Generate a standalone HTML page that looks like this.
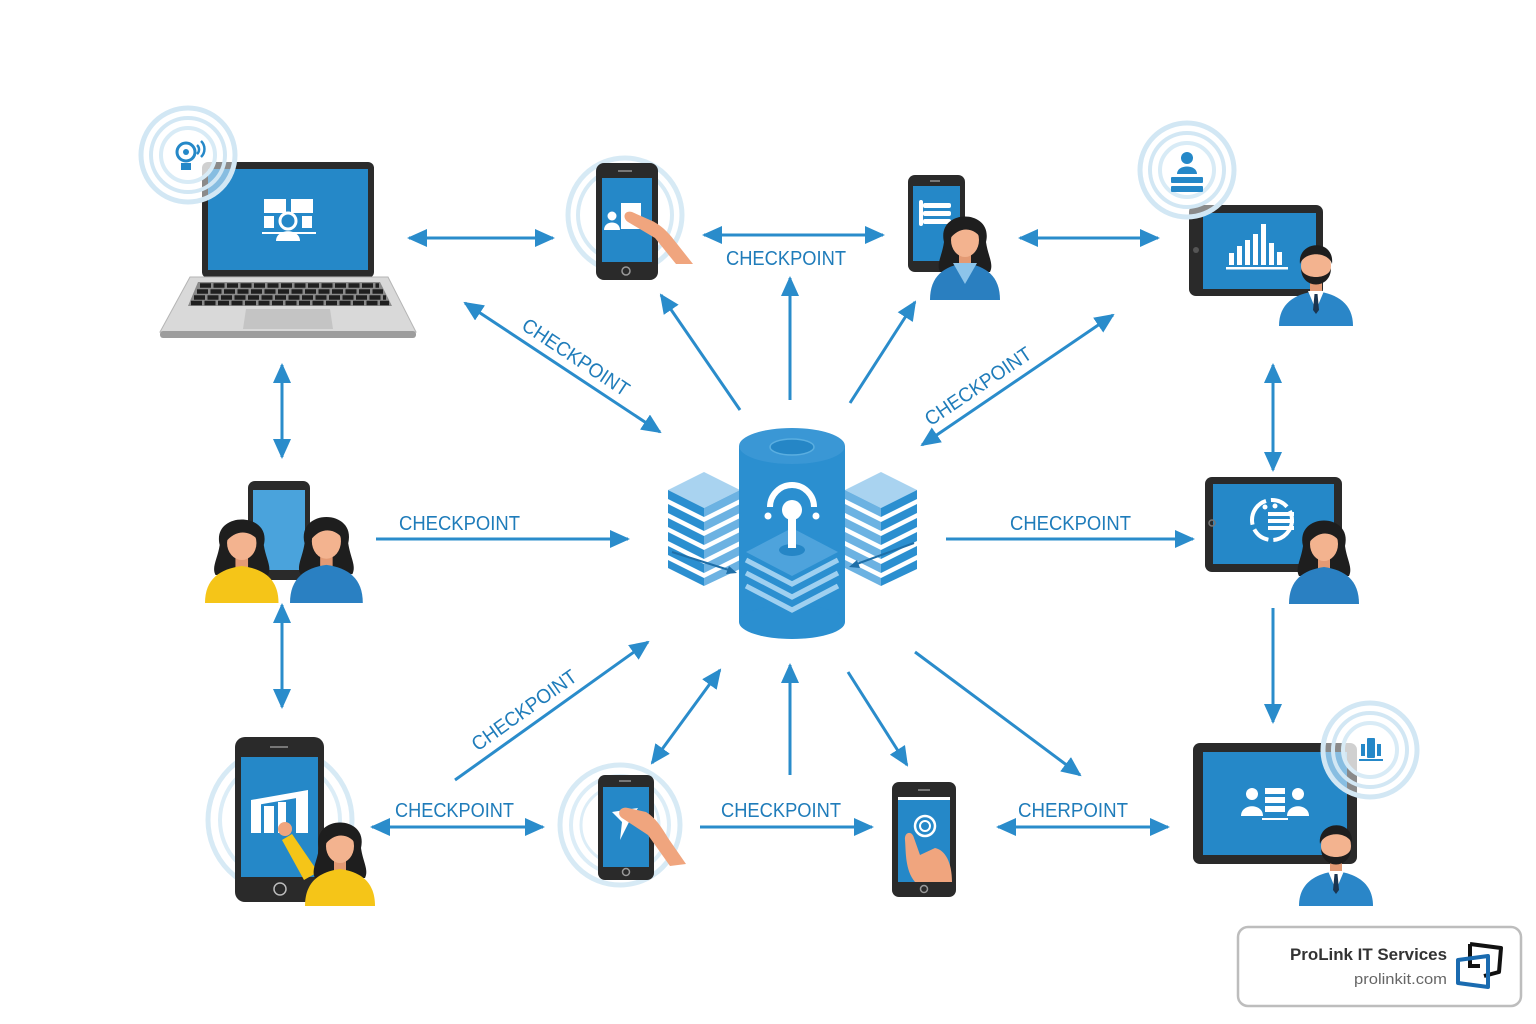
<!DOCTYPE html>
<html><head><meta charset="utf-8">
<style>
html,body{margin:0;padding:0;background:#fff;}
svg{display:block;}
text{font-family:"Liberation Sans",sans-serif;}
</style></head>
<body>
<svg width="1536" height="1024" viewBox="0 0 1536 1024" xmlns="http://www.w3.org/2000/svg">
<defs>
<marker id="ah" viewBox="0 0 10 10" refX="9" refY="5" markerWidth="20" markerHeight="18" markerUnits="userSpaceOnUse" orient="auto-start-reverse" preserveAspectRatio="none"><path d="M0,0 L10,5 L0,10 z" fill="#2a8ccb"/></marker>
<g id="woman">
 <path d="M14,42 C6,8 64,8 56,42 C58,56 64,64 60,72 L10,72 C6,64 12,56 14,42 z" fill="#1e1e1e"/>
 <rect x="29" y="50" width="12" height="16" fill="#e39a74"/>
 <path d="M0,100 C0,76 14,66 35,63 C56,66 70,76 70,100 z" fill="currentColor"/>
 <ellipse cx="35" cy="40" rx="14" ry="17" fill="#f3b38f"/>
 <path d="M19,40 C17,18 52,14 52,40 C46,28 30,24 19,40 z" fill="#1e1e1e"/>
</g>
<g id="man">
 <rect x="31" y="50" width="12" height="16" fill="#e39a74"/>
 <path d="M0,98 C0,76 15,66 37,63 C59,66 74,76 74,98 z" fill="currentColor"/>
 <path d="M29,63 L37,82 L45,63 z" fill="#fff"/>
 <path d="M35.5,66 L38.5,66 L40,82 L37,86 L34,82 z" fill="#1b3550"/>
 <ellipse cx="37" cy="38" rx="15" ry="18" fill="#f3b38f"/>
 <path d="M21,36 C18,12 56,10 53,36 C50,24 26,22 21,36 z" fill="#1e1e1e"/>
 <path d="M22,40 C22,62 52,62 52,40 C50,52 24,52 22,40 z" fill="#1e1e1e"/>
</g>
<g id="rings3">
 <circle r="47" fill="rgba(255,255,255,0.45)" stroke="#d2e7f4" stroke-width="5"/>
 <circle r="37" fill="none" stroke="#d2e7f4" stroke-width="4"/>
 <circle r="27" fill="rgba(255,255,255,0.6)" stroke="#d8ebf6" stroke-width="4"/>
</g>
</defs>

<!-- ============ CONNECTORS ============ -->
<g stroke="#2a8ccb" stroke-width="3" fill="none">
 <line x1="409" y1="238" x2="553" y2="238" marker-start="url(#ah)" marker-end="url(#ah)"/>
 <line x1="704" y1="235" x2="883" y2="235" marker-start="url(#ah)" marker-end="url(#ah)"/>
 <line x1="1020" y1="238" x2="1158" y2="238" marker-start="url(#ah)" marker-end="url(#ah)"/>
 <line x1="282" y1="365" x2="282" y2="457" marker-start="url(#ah)" marker-end="url(#ah)"/>
 <line x1="1273" y1="365" x2="1273" y2="470" marker-start="url(#ah)" marker-end="url(#ah)"/>
 <line x1="282" y1="605" x2="282" y2="707" marker-start="url(#ah)" marker-end="url(#ah)"/>
 <line x1="1273" y1="608" x2="1273" y2="722" marker-end="url(#ah)"/>
 <line x1="465" y1="303" x2="660" y2="432" marker-start="url(#ah)" marker-end="url(#ah)"/>
 <line x1="740" y1="410" x2="661" y2="295" marker-end="url(#ah)"/>
 <line x1="790" y1="400" x2="790" y2="278" marker-end="url(#ah)"/>
 <line x1="850" y1="403" x2="915" y2="302" marker-end="url(#ah)"/>
 <line x1="922" y1="445" x2="1113" y2="315" marker-start="url(#ah)" marker-end="url(#ah)"/>
 <line x1="376" y1="539" x2="628" y2="539" marker-end="url(#ah)"/>
 <line x1="946" y1="539" x2="1193" y2="539" marker-end="url(#ah)"/>
 <line x1="455" y1="780" x2="648" y2="642" marker-end="url(#ah)"/>
 <line x1="652" y1="763" x2="720" y2="670" marker-start="url(#ah)" marker-end="url(#ah)"/>
 <line x1="790" y1="775" x2="790" y2="665" marker-end="url(#ah)"/>
 <line x1="848" y1="672" x2="907" y2="765" marker-end="url(#ah)"/>
 <line x1="915" y1="652" x2="1080" y2="775" marker-end="url(#ah)"/>
 <line x1="372" y1="827" x2="543" y2="827" marker-start="url(#ah)" marker-end="url(#ah)"/>
 <line x1="700" y1="827" x2="872" y2="827" marker-end="url(#ah)"/>
 <line x1="998" y1="827" x2="1168" y2="827" marker-start="url(#ah)" marker-end="url(#ah)"/>
</g>

<!-- labels -->
<g fill="#1f7cba" font-size="20">
 <text x="726" y="265" textLength="120" lengthAdjust="spacingAndGlyphs">CHECKPOINT</text>
 <text x="399" y="530" textLength="121" lengthAdjust="spacingAndGlyphs">CHECKPOINT</text>
 <text x="1010" y="530" textLength="121" lengthAdjust="spacingAndGlyphs">CHECKPOINT</text>
 <text x="395" y="817" textLength="119" lengthAdjust="spacingAndGlyphs">CHECKPOINT</text>
 <text x="721" y="817" textLength="120" lengthAdjust="spacingAndGlyphs">CHECKPOINT</text>
 <text x="1018" y="817" textLength="110" lengthAdjust="spacingAndGlyphs">CHERPOINT</text>
 <text transform="translate(576,357) rotate(33.5)" x="0" y="7" text-anchor="middle" textLength="124" lengthAdjust="spacingAndGlyphs">CHECKPOINT</text>
 <text transform="translate(978,386) rotate(-34)" x="0" y="7" text-anchor="middle" textLength="124" lengthAdjust="spacingAndGlyphs">CHECKPOINT</text>
 <text transform="translate(524,710) rotate(-35.5)" x="0" y="7" text-anchor="middle" textLength="124" lengthAdjust="spacingAndGlyphs">CHECKPOINT</text>
</g>

<!-- ============ LAPTOP ============ -->
<g>
 <rect x="202" y="162" width="172" height="116" rx="6" fill="#2b2b2b"/>
 <rect x="208" y="169" width="160" height="101" fill="#2588c8"/>
 <g fill="#fff">
  <rect x="264" y="199" width="22" height="14"/><rect x="291" y="199" width="22" height="14"/>
  <rect x="264" y="216" width="10" height="12"/><rect x="302" y="216" width="10" height="12"/>
  <rect x="262" y="232" width="54" height="2"/>
  <circle cx="288" cy="221" r="8" fill="#2588c8" stroke="#fff" stroke-width="3"/>
  <path d="M276,241 C276,228 300,228 300,241 z"/>
 </g>
 <polygon points="190,277 388,277 416,332 160,332" fill="#d9d9d9" stroke="#b5b5b5" stroke-width="1"/>
 <rect x="160" y="331" width="256" height="7" rx="3" fill="#9d9d9d"/>
 <polygon points="198,282 380,282 392,306 188,306" fill="#8a8a8a"/>
 <g stroke="#1f1f1f" stroke-width="4.5" stroke-dasharray="11 2.5">
  <line x1="200" y1="285.5" x2="379" y2="285.5"/>
  <line x1="197" y1="291.5" x2="383" y2="291.5"/>
  <line x1="194" y1="297.5" x2="386" y2="297.5"/>
  <line x1="191" y1="303" x2="389" y2="303"/>
 </g>
 <polygon points="246,309 330,309 333,329 243,329" fill="#c4c4c4"/>
 <use href="#rings3" transform="translate(188,155)"/>
 <circle cx="186" cy="152" r="9" fill="#fff" stroke="#2588c8" stroke-width="3"/>
 <circle cx="186" cy="152" r="3" fill="#2588c8"/>
 <rect x="181" y="163" width="10" height="7" fill="#2588c8"/>
 <path d="M197,145 a6,6 0 0 1 0,9 M201,141 a11,11 0 0 1 0,16" stroke="#2588c8" stroke-width="2.5" fill="none"/>
</g>

<!-- ============ PHONE 1 (top) ============ -->
<g>
 <circle cx="625" cy="215" r="57" fill="none" stroke="#d7eaf5" stroke-width="5"/>
 <circle cx="625" cy="215" r="47" fill="none" stroke="#d7eaf5" stroke-width="4"/>
 <rect x="596" y="163" width="62" height="117" rx="8" fill="#2a2a2a"/>
 <rect x="602" y="178" width="50" height="84" fill="#2588c8"/>
 <rect x="618" y="170" width="14" height="2" fill="#777"/>
 <circle cx="626" cy="271" r="4" fill="none" stroke="#999" stroke-width="1.5"/>
 <rect x="621" y="203" width="20" height="26" fill="#fff"/>
 <circle cx="612" cy="216" r="4.5" fill="#fff"/>
 <path d="M604,230 C604,220 620,220 620,230 z" fill="#fff"/>
 <path d="M693,264 L676,264 L655,238 L628,222 C622,218 624,210 632,212 L650,220 C660,224 668,232 674,240 z" fill="#f0a57e"/>
</g>

<!-- ============ PHONE 2 (top) + woman ============ -->
<g>
 <rect x="908" y="175" width="57" height="97" rx="7" fill="#2a2a2a"/>
 <rect x="913" y="186" width="47" height="75" fill="#2588c8"/>
 <rect x="930" y="180" width="10" height="2" fill="#777"/>
 <g fill="#fff"><rect x="923" y="203" width="28" height="5" rx="2"/><rect x="923" y="211" width="28" height="5" rx="2"/><rect x="923" y="219" width="28" height="5" rx="2"/><rect x="919" y="200" width="4" height="26" rx="2"/></g>
 <use href="#woman" transform="translate(930,200)" style="color:#2a7fc0"/>
 <path d="M953,263 L965,284 L977,263 z" fill="#8cc4ea"/>
</g>

<!-- ============ TOP RIGHT TABLET + man ============ -->
<g>
 <rect x="1189" y="205" width="134" height="91" rx="7" fill="#2a2a2a"/>
 <rect x="1203" y="213" width="113" height="76" fill="#2588c8"/>
 <circle cx="1196" cy="250" r="3" fill="#555"/>
 <g fill="#fff">
  <rect x="1229" y="253" width="5" height="12"/><rect x="1237" y="246" width="5" height="19"/>
  <rect x="1245" y="240" width="5" height="25"/><rect x="1253" y="234" width="5" height="31"/>
  <rect x="1261" y="224" width="5" height="41"/><rect x="1269" y="243" width="5" height="22"/>
  <rect x="1277" y="252" width="5" height="13"/>
  <rect x="1226" y="267" width="62" height="2.5"/>
 </g>
 <use href="#man" transform="translate(1279,228)" style="color:#2a86c8"/>
 <use href="#rings3" transform="translate(1187,170)"/>
 <circle cx="1187" cy="158" r="6" fill="#2588c8"/>
 <path d="M1177,174 C1177,164 1197,164 1197,174 z" fill="#2588c8"/>
 <rect x="1171" y="177" width="32" height="6" rx="1" fill="#2588c8"/>
 <rect x="1171" y="186" width="32" height="6" rx="1" fill="#2588c8"/>
</g>

<!-- ============ LEFT MIDDLE people ============ -->
<g>
 <rect x="248" y="481" width="62" height="99" rx="7" fill="#2a2a2a"/>
 <rect x="253" y="490" width="52" height="80" fill="#4aa3dc"/>
 <use href="#woman" transform="translate(205,503) scale(1.05,1)" style="color:#f5c518"/>
 <use href="#woman" transform="translate(290,500) scale(1.04,1.03)" style="color:#2a80c2"/>
</g>

<!-- ============ CENTER SERVER ============ -->
<g>
 <!-- left stack -->
 <g>
  <polygon points="668,490 704,472 740,490 704,508" fill="#a9d3f0"/>
  <g fill="#2b8fd0">
   <polygon points="668,490 704,508 704,517 668,499"/><polygon points="668,504 704,522 704,531 668,513"/>
   <polygon points="668,518 704,536 704,545 668,527"/><polygon points="668,532 704,550 704,559 668,541"/>
   <polygon points="668,546 704,564 704,573 668,555"/><polygon points="668,560 704,578 704,586 668,568"/>
  </g>
  <g fill="#6cb2e2">
   <polygon points="704,508 740,490 740,499 704,517"/><polygon points="704,522 740,504 740,513 704,531"/>
   <polygon points="704,536 740,518 740,527 704,545"/><polygon points="704,550 740,532 740,541 704,559"/>
   <polygon points="704,564 740,546 740,555 704,573"/><polygon points="704,578 740,560 740,569 704,586"/>
  </g>
  <line x1="672" y1="552" x2="732" y2="571" stroke="#1f6fa8" stroke-width="2"/>
  <polygon points="737,573 726,574 729,566" fill="#1f6fa8"/>
 </g>
 <!-- right stack -->
 <g>
  <polygon points="845,490 881,472 917,490 881,508" fill="#a9d3f0"/>
  <g fill="#6cb2e2">
   <polygon points="845,490 881,508 881,517 845,499"/><polygon points="845,504 881,522 881,531 845,513"/>
   <polygon points="845,518 881,536 881,545 845,527"/><polygon points="845,532 881,550 881,559 845,541"/>
   <polygon points="845,546 881,564 881,573 845,555"/><polygon points="845,560 881,578 881,586 845,568"/>
  </g>
  <g fill="#2b8fd0">
   <polygon points="881,508 917,490 917,499 881,517"/><polygon points="881,522 917,504 917,513 881,531"/>
   <polygon points="881,536 917,518 917,527 881,545"/><polygon points="881,550 917,532 917,541 881,559"/>
   <polygon points="881,564 917,546 917,555 881,573"/><polygon points="881,578 917,560 917,569 881,586"/>
  </g>
  <line x1="914" y1="543" x2="854" y2="565" stroke="#1f6fa8" stroke-width="2"/>
  <polygon points="849,567 857,560 860,568" fill="#1f6fa8"/>
 </g>
 <!-- cylinder -->
 <rect x="739" y="446" width="106" height="176" fill="#2b8fd0"/>
 <ellipse cx="792" cy="622" rx="53" ry="17" fill="#2b8fd0"/>
 <ellipse cx="792" cy="446" rx="53" ry="18" fill="#3a97d5"/>
 <ellipse cx="792" cy="447" rx="22" ry="8" fill="#2586c6" stroke="#5aaee0" stroke-width="1.5"/>
 <!-- keyhole -->
 <path d="M770,507 A22,22 0 0 1 814,507" fill="none" stroke="#fff" stroke-width="6"/>
 <circle cx="768" cy="516" r="3.5" fill="#fff"/><circle cx="816" cy="516" r="3.5" fill="#fff"/>
 <circle cx="792" cy="510" r="10" fill="#fff"/>
 <rect x="788" y="512" width="8" height="30" fill="#fff"/>
 <!-- stacked plates -->
 <polygon points="746,552 792,528 838,552 792,576" fill="#4ea3dc"/>
 <ellipse cx="792" cy="550" rx="13" ry="6" fill="#2586c6"/>
 <rect x="788" y="528" width="8" height="20" fill="#fff"/>
 <g fill="none" stroke="#9fd0f0" stroke-width="5">
  <polyline points="746,560 792,584 838,560"/>
  <polyline points="746,573 792,597 838,573"/>
  <polyline points="746,586 792,610 838,586"/>
 </g>
</g>

<!-- ============ RIGHT MIDDLE TABLET + woman ============ -->
<g>
 <rect x="1205" y="477" width="137" height="95" rx="7" fill="#2a2a2a"/>
 <rect x="1213" y="484" width="121" height="80" fill="#2588c8"/>
 <circle cx="1212" cy="523" r="3" fill="none" stroke="#777" stroke-width="1.5"/>
 <circle cx="1272" cy="520" r="20" fill="none" stroke="#fff" stroke-width="4" stroke-dasharray="30 5 18 5"/>
 <g fill="#fff"><rect x="1268" y="512" width="26" height="4"/><rect x="1268" y="519" width="26" height="4"/><rect x="1268" y="526" width="26" height="4"/><circle cx="1265" cy="507" r="2.5"/><circle cx="1275" cy="506" r="2.5"/></g>
 <use href="#woman" transform="translate(1289,504)" style="color:#2a80c2"/>
</g>

<!-- ============ BOTTOM LEFT BIG PHONE + woman ============ -->
<g>
 <circle cx="280" cy="820" r="72" fill="none" stroke="#d7eaf5" stroke-width="5"/>
 <circle cx="280" cy="820" r="60" fill="none" stroke="#dcedf7" stroke-width="4"/>
 <rect x="235" y="737" width="89" height="165" rx="10" fill="#2a2a2a"/>
 <rect x="241" y="757" width="77" height="120" fill="#2588c8"/>
 <rect x="270" y="746" width="18" height="2" fill="#777"/>
 <circle cx="280" cy="889" r="6" fill="none" stroke="#bbb" stroke-width="1.5"/>
 <g fill="#fff">
  <rect x="251" y="803" width="10" height="30"/><rect x="264" y="806" width="10" height="27"/>
  <rect x="278" y="802" width="8" height="31"/><rect x="296" y="796" width="12" height="37"/>
  <polygon points="251,800 308,790 308,796 251,806"/>
 </g>
 <path d="M304,880 L282,840 L292,834 L318,872 z" fill="#f5c518"/>
 <circle cx="285" cy="829" r="7" fill="#f0a57e"/>
 <use href="#woman" transform="translate(305,806) scale(1.0,1.0)" style="color:#f5c518"/>
</g>

<!-- ============ BOTTOM PHONE 2 ============ -->
<g>
 <circle cx="620" cy="825" r="60" fill="none" stroke="#d7eaf5" stroke-width="5"/>
 <circle cx="620" cy="825" r="49" fill="none" stroke="#dcedf7" stroke-width="4"/>
 <circle cx="620" cy="825" r="39" fill="none" stroke="#dcedf7" stroke-width="3"/>
 <rect x="598" y="775" width="56" height="105" rx="7" fill="#2a2a2a"/>
 <rect x="603" y="787" width="46" height="80" fill="#2588c8"/>
 <rect x="619" y="780" width="12" height="2" fill="#777"/>
 <circle cx="626" cy="872" r="3.5" fill="none" stroke="#999" stroke-width="1.5"/>
 <polygon points="612,812 638,808 630,820 620,840 622,822" fill="#fff"/>
 <path d="M686,864 L670,866 L648,835 L622,818 C616,814 620,806 628,808 L646,812 C656,818 662,828 668,838 z" fill="#f0a57e"/>
</g>

<!-- ============ BOTTOM PHONE 3 ============ -->
<g>
 <rect x="892" y="782" width="64" height="115" rx="7" fill="#2a2a2a"/>
 <rect x="898" y="797" width="52" height="85" fill="#2588c8"/>
 <rect x="898" y="797" width="52" height="3" fill="#fff"/>
 <rect x="918" y="789" width="12" height="2" fill="#777"/>
 <circle cx="924" cy="889" r="3.5" fill="none" stroke="#999" stroke-width="1.5"/>
 <circle cx="925" cy="826" r="10" fill="none" stroke="#fff" stroke-width="2.5"/>
 <circle cx="925" cy="826" r="5" fill="none" stroke="#fff" stroke-width="2"/>
 <path d="M915,882 C905,870 906,852 905,840 C904,832 912,830 914,838 L920,855 L935,848 C945,850 952,862 952,882 z" fill="#f0a57e"/>
</g>

<!-- ============ BOTTOM RIGHT MONITOR + man ============ -->
<g>
 <rect x="1193" y="743" width="164" height="121" rx="7" fill="#2a2a2a"/>
 <rect x="1203" y="752" width="144" height="103" fill="#2588c8"/>
 <g fill="#fff">
  <circle cx="1252" cy="794" r="6"/><path d="M1241,816 C1241,803 1263,803 1263,816 z"/>
  <circle cx="1298" cy="794" r="6"/><path d="M1287,816 C1287,803 1309,803 1309,816 z"/>
  <rect x="1265" y="788" width="20" height="6"/><rect x="1265" y="797" width="20" height="6"/><rect x="1265" y="806" width="20" height="6"/>
  <rect x="1262" y="818" width="26" height="2"/>
 </g>
 <use href="#rings3" transform="translate(1370,750)"/>
 <g fill="#2588c8"><rect x="1361" y="744" width="4" height="12"/><rect x="1367" y="738" width="8" height="20" rx="1"/><rect x="1377" y="744" width="4" height="12"/><rect x="1359" y="759" width="24" height="2"/></g>
 <use href="#man" transform="translate(1299,808)" style="color:#2a86c8"/>
</g>

<!-- ============ LOGO ============ -->
<g>
 <rect x="1238" y="927" width="283" height="79" rx="10" fill="#fff" stroke="#bdbdbd" stroke-width="2.5"/>
 <text x="1447" y="960" text-anchor="end" font-size="17" font-weight="bold" fill="#333" textLength="157" lengthAdjust="spacingAndGlyphs">ProLink IT Services</text>
 <text x="1447" y="984" text-anchor="end" font-size="15" fill="#666" textLength="93" lengthAdjust="spacingAndGlyphs">prolinkit.com</text>
 <path d="M1470,944 L1501,948 L1499,972 L1484,976" fill="none" stroke="#111" stroke-width="4" stroke-linejoin="round"/>
 <path d="M1470,944 L1470,966 L1480,966" fill="none" stroke="#111" stroke-width="4"/>
 <path d="M1458,960 L1488,956 L1488,987 L1458,983 z" fill="none" stroke="#1a6bb0" stroke-width="4" stroke-linejoin="round"/>
</g>
</svg>
</body></html>
